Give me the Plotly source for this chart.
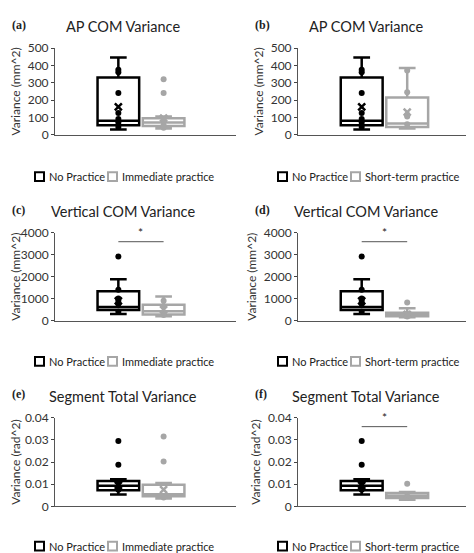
import plotly.graph_objects as go

# box statistics: [lower, q1, median, q3, upper, mean]
ap_none = [30, 55, 80, 330, 445, 160]
ap_none_pts = [45, 70, 90, 125, 240, 360, 375]
ap_imm = [35, 50, 70, 95, 105, 95]
ap_imm_pts = [40, 55, 80, 240, 320]
ap_short = [35, 45, 65, 215, 385, 130]
ap_short_pts = [60, 105, 115, 245, 370]

vert_none = [300, 480, 620, 1340, 1880, 900]
vert_none_pts = [400, 750, 900, 1000, 1400, 2920]
vert_imm = [200, 280, 420, 720, 1100, 500]
vert_imm_pts = [250, 350, 650, 900]
vert_short = [150, 200, 260, 350, 560, 280]
vert_short_pts = [180, 300, 820]

seg_none = [0.0053, 0.0073, 0.0093, 0.0115, 0.0122, 0.0095]
seg_none_pts = [0.0075, 0.011, 0.0188, 0.0295]
seg_imm = [0.0035, 0.0045, 0.0055, 0.0097, 0.0105, 0.0075]
seg_imm_pts = [0.004, 0.0203, 0.0315]
seg_short = [0.003, 0.0038, 0.0048, 0.006, 0.0065, 0.005]
seg_short_pts = [0.004, 0.0102]

BLACK = "#000000"
GREY = "#a6a6a6"
W, H = 474, 553

panels = [
    ("(a)", "AP COM Variance", ap_none, ap_none_pts, ap_imm, ap_imm_pts, "Immediate practice",
     [0, 500], 100, "Variance (mm^2)", None),
    ("(b)", "AP COM Variance", ap_none, ap_none_pts, ap_short, ap_short_pts, "Short-term practice",
     [0, 500], 100, "Variance (mm^2)", None),
    ("(c)", "Vertical COM Variance", vert_none, vert_none_pts, vert_imm, vert_imm_pts, "Immediate practice",
     [0, 4000], 1000, "Variance (mm^2)", 3600),
    ("(d)", "Vertical COM Variance", vert_none, vert_none_pts, vert_short, vert_short_pts, "Short-term practice",
     [0, 4000], 1000, "Variance (mm^2)", 3600),
    ("(e)", "Segment Total Variance", seg_none, seg_none_pts, seg_imm, seg_imm_pts, "Immediate practice",
     [0, 0.04], 0.01, "Variance (rad^2)", None),
    ("(f)", "Segment Total Variance", seg_none, seg_none_pts, seg_short, seg_short_pts, "Short-term practice",
     [0, 0.04], 0.01, "Variance (rad^2)", 0.036),
]

# plot area in pixels: (x0, x1) per column, (ytop, ybottom) per row
cols = [(47, 228), (290, 472)]
rows = [(33, 122), (223, 313), (413, 504)]
legend_y = [165, 355, 545]

fig = go.Figure()
layout = dict(width=W, height=H, margin=dict(l=0, r=0, t=0, b=0),
              plot_bgcolor="white", paper_bgcolor="white", showlegend=False,
              font=dict(family="Lato", size=11, color="#222"))
annotations, shapes = [], []

for i, (lab, title, s1, p1, s2, p2, name2, yr, dt, ytitle, sig) in enumerate(panels):
    r, c = divmod(i, 2)
    n = i + 1
    xa = "x" if n == 1 else f"x{n}"
    ya = "y" if n == 1 else f"y{n}"
    x0, x1 = cols[c]
    yt, yb = rows[r]
    layout[f"xaxis{'' if n == 1 else n}"] = dict(
        domain=[x0 / W, x1 / W], range=[0, 1], anchor=ya, showticklabels=False,
        showgrid=False, zeroline=False, showline=True, linecolor="#555", ticks="")
    layout[f"yaxis{'' if n == 1 else n}"] = dict(
        domain=[1 - yb / H, 1 - yt / H], range=yr, dtick=dt, anchor=xa,
        showgrid=False, zeroline=False, showline=True, linecolor="#555",
        ticks="outside", ticklen=3, tickfont=dict(size=12, color="#333"),
        title=dict(text=ytitle, font=dict(size=12, color="#333"), standoff=4))
    for xc, s, pts, col in [(0.35, s1, p1, BLACK), (0.6, s2, p2, GREY)]:
        fig.add_trace(go.Box(x=[xc], q1=[s[1]], median=[s[2]], q3=[s[3]],
                             lowerfence=[s[0]], upperfence=[s[4]], width=0.23,
                             fillcolor="rgba(0,0,0,0)", line=dict(color=col, width=2.5),
                             whiskerwidth=0.4, boxpoints=False, xaxis=xa, yaxis=ya))
        fig.add_trace(go.Scatter(x=[xc] * len(pts), y=pts, mode="markers",
                                 marker=dict(color=col, size=6), xaxis=xa, yaxis=ya))
        fig.add_trace(go.Scatter(x=[xc], y=[s[5]], mode="markers",
                                 marker=dict(color=col, size=7, symbol="x-thin",
                                             line=dict(color=col, width=2.5)),
                                 xaxis=xa, yaxis=ya))
    if sig is not None:
        shapes.append(dict(type="line", xref=xa, yref=ya, x0=0.35, x1=0.6, y0=sig, y1=sig,
                           line=dict(color="#555", width=1)))
        annotations.append(dict(xref=xa, yref=ya, x=0.475, y=sig, text="*", showarrow=False,
                                yanchor="bottom", font=dict(size=12)))
    # panel label and title
    annotations.append(dict(xref="paper", yref="paper", x=(x0 - 45) / W, y=1 - (yt - 24) / H,
                            text=f"<b>{lab}</b>", showarrow=False, xanchor="left", yanchor="middle",
                            font=dict(family="Liberation Serif", size=12)))
    annotations.append(dict(xref="paper", yref="paper", x=(x0 + 68) / W, y=1 - (yt - 22) / H,
                            text=title, showarrow=False, xanchor="center", yanchor="middle",
                            font=dict(size=14.5, color="#222")))
    # custom legend
    ly = legend_y[r]
    lx = x0 - 20
    for dx, txt, col in [(0, "No Practice", BLACK), (73, name2, GREY)]:
        shapes.append(dict(type="rect", xref="paper", yref="paper",
                           x0=(lx + dx) / W, x1=(lx + dx + 9) / W,
                           y0=1 - (ly + 4.5) / H, y1=1 - (ly - 4.5) / H,
                           line=dict(color=col, width=2)))
        annotations.append(dict(xref="paper", yref="paper", x=(lx + dx + 12) / W, y=1 - ly / H,
                                text=txt, showarrow=False, xanchor="left", yanchor="middle",
                                font=dict(size=11, color="#222")))

layout["annotations"] = annotations
layout["shapes"] = shapes
fig.update_layout(**layout)
fig.write_html("out.html")
